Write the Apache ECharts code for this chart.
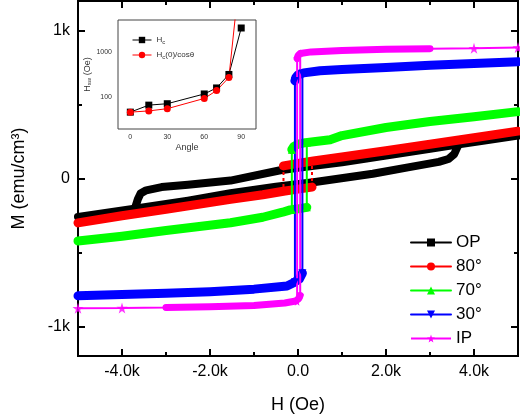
<!DOCTYPE html>
<html><head><meta charset="utf-8">
<script src="https://cdn.jsdelivr.net/npm/echarts/dist/echarts.min.js"></script>
<style>html,body{margin:0;padding:0;background:#fff}#c{width:520px;height:419px}</style>
</head><body><div id="c"></div>
<script>
// ---- tick values / labels ----
const xTickValues = [-4000, -2000, 0, 2000, 4000];
const xTickLabels = ['-4.0k', '-2.0k', '0.0', '2.0k', '4.0k'];
const xMinorValues = [-3000, -1000, 1000, 3000];
const yTickValues = [-1000, 0, 1000];
const yTickLabels = ['-1k', '0', '1k'];
const yMinorValues = [-500, 500];
const insetXTicks = [0, 30, 60, 90];
const insetYTicks = [100, 1000];

// ---- loop data [H (Oe), M (emu/cm3)] ----
const opUpper = [[5000,290],[4200,255],[3660,232],[3000,200],[2000,155],[1000,110],[0,72],[-400,56],[-1534,-14],[-2500,-42],[-3100,-58],[-3450,-80],[-3580,-102],[-3640,-140],[-3690,-188],[-3720,-205]];
const opLower = [[-5000,-260],[-3720,-205],[-2500,-150],[-1534,-100],[-500,-55],[350,-25],[1700,32],[2500,75],[3200,112],[3420,132],[3550,165],[3620,210],[3660,232]];

const r80Upper = [[5000,320],[4000,276],[3000,232],[2000,188],[1000,145],[350,118],[0,102],[-330,85]];
const r80Lower = [[-5000,-300],[-4000,-252],[-3000,-208],[-1534,-141],[-800,-110],[-330,-86],[0,-72],[318,-58]];
const r80JumpDown = [[-330,85],[-330,-86]];
const r80JumpUp = [[318,-58],[318,116]];

const g70Upper = [[5000,452],[4000,418],[3000,385],[2000,345],[1000,290],[730,262],[400,250],[170,242],[0,232],[-100,215],[-140,195]];
const g70Lower = [[-5000,-422],[-4000,-390],[-3000,-352],[-1534,-299],[-800,-262],[-350,-228],[-175,-212],[0,-205],[200,-195]];
const g70JumpDown = [[-140,195],[-140,-211]];
const g70JumpUp = [[200,-195],[200,243]];

const b30Upper = [[5000,790],[4000,778],[3000,765],[2000,750],[1000,737],[500,728],[130,714],[0,700],[-50,682],[-70,660]];
const b30Lower = [[-5000,-793],[-4000,-785],[-3000,-776],[-2000,-765],[-1000,-748],[-250,-727],[-100,-705],[30,-680],[100,-640]];
const b30JumpDown = [[-70,660],[-70,-702]];
const b30JumpUp = [[100,-640],[100,710]];

const ipUpper = [[5000,885],[4000,880],[3000,878],[2000,873],[1000,866],[300,856],[50,845],[0,830],[-20,812]];
const ipLower = [[-5000,-878],[-4000,-876],[-3000,-872],[-2000,-867],[-1000,-858],[-300,-842],[-50,-828],[20,-810],[50,-790]];
const ipJumpDown = [[-20,812],[-20,-834]];
const ipJumpUp = [[50,-790],[50,846]];

// ---- inset data ----
const angles = [0, 15, 30, 60, 70, 80, 90];
const hcValues = [47, 67, 72, 118, 160, 317, 3335];
const hcCosValues = [47, 50, 56, 94, 140, 272, 100000];

const FONT = 'Liberation Sans, Arial, sans-serif';
const STAR = 'path://M50,0 L61,35 L98,35 L68,57 L79,91 L50,70 L21,91 L32,57 L2,35 L39,35 Z';
const DTRI = 'path://M0,0 L10,0 L5,9 Z';

const series = [];
function band(name, data, color, symbol, width) {
  series.push({type:'line', name, data, symbol, showSymbol:false, symbolSize:8,
    lineStyle:{width: width || 9, color, cap:'round', join:'round'}, itemStyle:{color},
    xAxisIndex:0, yAxisIndex:0, animation:false, silent:true});
}
function jump(name, data, color, symbol, showSym, dashed) {
  series.push({type:'line', name, data, symbol, showSymbol:showSym, symbolSize:8,
    lineStyle:{width:2, color, type: dashed ? [3,3] : 'solid'}, itemStyle:{color},
    xAxisIndex:0, yAxisIndex:0, animation:false, silent:true});
}
band('OP', opUpper, '#000000', 'rect', 8);
band('OP', opLower, '#000000', 'rect', 8);
band('80°', r80Upper, '#ff0000', 'circle');
band('80°', r80Lower, '#ff0000', 'circle');
jump('80°', r80JumpDown, '#ff0000', 'circle', false, true);
jump('80°', r80JumpUp, '#ff0000', 'circle', false, true);
band('70°', g70Upper, '#00ff00', 'triangle');
band('70°', g70Lower, '#00ff00', 'triangle');
jump('70°', g70JumpDown, '#00ff00', 'triangle', true);
jump('70°', g70JumpUp, '#00ff00', 'triangle', true);
band('30°', b30Upper, '#0000ff', DTRI);
band('30°', b30Lower, '#0000ff', DTRI);
jump('30°', b30JumpDown, '#0000ff', DTRI, true);
jump('30°', b30JumpUp, '#0000ff', DTRI, true);
jump('IP', ipUpper, '#ff00ff', STAR, false);
jump('IP', ipLower, '#ff00ff', STAR, false);
band('IP', ipUpper.filter(p => Math.abs(p[0]) <= 3000), '#ff00ff', STAR, 7);
band('IP', ipLower.filter(p => Math.abs(p[0]) <= 3000), '#ff00ff', STAR, 7);
jump('IP', ipJumpDown, '#ff00ff', STAR, true);
jump('IP', ipJumpUp, '#ff00ff', STAR, true);
series.push({type:'scatter', name:'IP', symbol:STAR, symbolSize:11,
  data: ipUpper.concat(ipLower).filter(p => Math.abs(p[0]) > 3000),
  itemStyle:{color:'#ff00ff'}, xAxisIndex:0, yAxisIndex:0, animation:false, silent:true});

// inset series
series.push({type:'line', name:'Hc', data: angles.map((a,i)=>[a, hcValues[i]]), symbol:'rect', symbolSize:7,
  lineStyle:{width:1, color:'#000'}, itemStyle:{color:'#000'}, xAxisIndex:4, yAxisIndex:4, animation:false, silent:true, z:5});
series.push({type:'line', name:'Hc0cos', data: angles.map((a,i)=>[a, hcCosValues[i]]), symbol:'circle', symbolSize:7,
  lineStyle:{width:1, color:'#ff0000'}, itemStyle:{color:'#ff0000'}, xAxisIndex:4, yAxisIndex:4, animation:false, silent:true, z:5});

function tickAxis(base, values, len, labels, formatter) {
  return Object.assign({
    axisLine:{show:false, onZero:false},
    splitLine:{show:false},
    axisTick:{show:true, inside:true, length:len, customValues:values, lineStyle:{color:'#000', width:2}},
    axisLabel: labels ? {show:true, customValues:values, formatter, color:'#000', fontSize:16, fontFamily:FONT, margin:8} : {show:false}
  }, base);
}
const xFmt = v => { const i = xTickValues.indexOf(v); return i >= 0 ? xTickLabels[i] : ''; };
const yFmt = v => { const i = yTickValues.indexOf(v); return i >= 0 ? yTickLabels[i] : ''; };

const mainX = {type:'value', min:-5000, max:5000, gridIndex:0};
const mainY = {type:'value', min:-1200, max:1200, gridIndex:0};

const xAxis = [
  tickAxis(Object.assign({position:'bottom', name:'H (Oe)', nameLocation:'middle', nameGap:40,
    nameTextStyle:{fontSize:18, color:'#000', fontFamily:FONT}}, mainX), xTickValues, 7, true, xFmt),
  tickAxis(Object.assign({position:'bottom'}, mainX), xMinorValues, 4, false),
  tickAxis(Object.assign({position:'top'}, mainX), xTickValues, 7, false),
  tickAxis(Object.assign({position:'top'}, mainX), xMinorValues, 4, false),
  {type:'value', gridIndex:1, min:-10, max:102, position:'bottom', name:'Angle', nameLocation:'middle', nameGap:14,
    nameTextStyle:{fontSize:9, color:'#333', fontFamily:FONT},
    axisLine:{show:false, onZero:false}, splitLine:{show:false},
    axisTick:{inside:true, length:3, customValues:insetXTicks, lineStyle:{color:'#333', width:1}},
    axisLabel:{customValues:insetXTicks, fontSize:7, color:'#333', margin:5, fontFamily:FONT}},
  {type:'value', gridIndex:1, min:-10, max:102, position:'top',
    axisLine:{show:false, onZero:false}, splitLine:{show:false},
    axisTick:{inside:true, length:3, customValues:insetXTicks, lineStyle:{color:'#333', width:1}},
    axisLabel:{show:false}}
];
const yAxis = [
  tickAxis(Object.assign({position:'left', name:'M (emu/cm³)', nameLocation:'middle', nameGap:50,
    nameTextStyle:{fontSize:18, color:'#000', fontFamily:FONT}}, mainY), yTickValues, 7, true, yFmt),
  tickAxis(Object.assign({position:'left'}, mainY), yMinorValues, 4, false),
  tickAxis(Object.assign({position:'right'}, mainY), yTickValues, 7, false),
  tickAxis(Object.assign({position:'right'}, mainY), yMinorValues, 4, false),
  {type:'log', logBase:10, gridIndex:1, min:20, max:5000, position:'left',
    name:'{a|H}{s|sw}{a| (Oe)}', nameLocation:'middle', nameGap:24,
    nameTextStyle:{color:'#333', fontFamily:FONT, rich:{a:{fontSize:9, color:'#333', fontFamily:FONT}, s:{fontSize:6, color:'#333', fontFamily:FONT, padding:[4,0,0,0]}}},
    axisLine:{show:false, onZero:false}, splitLine:{show:false},
    axisTick:{inside:true, length:3, customValues:insetYTicks, lineStyle:{color:'#333', width:1}},
    axisLabel:{customValues:insetYTicks, fontSize:7, color:'#333', margin:6, fontFamily:FONT, formatter: v => String(Math.round(v))}},
  {type:'log', logBase:10, gridIndex:1, min:20, max:5000, position:'right',
    axisLine:{show:false, onZero:false}, splitLine:{show:false},
    axisTick:{inside:true, length:3, customValues:insetYTicks, lineStyle:{color:'#333', width:1}},
    axisLabel:{show:false}}
];

const chart = echarts.init(document.getElementById('c'), null, {renderer:'canvas'});
chart.setOption({
  backgroundColor:'#fff',
  animation:false,
  grid:[
    {left:78, top:1, width:440, height:356, show:true, borderColor:'#000', borderWidth:2, backgroundColor:'transparent'},
    {left:118, top:20, width:138, height:109, show:true, borderColor:'#444', borderWidth:1, backgroundColor:'#fff', z:4}
  ],
  xAxis, yAxis, series,
  legend:[
    {data:['OP','80°','70°','30°','IP'], orient:'vertical', left:405, top:229, itemWidth:40, itemHeight:10, itemGap:7,
      selectedMode:false, textStyle:{fontSize:17, color:'#000', fontFamily:FONT}, lineStyle:{width:2}},
    {data:['Hc','Hc0cos'], orient:'vertical', left:127, top:31, itemWidth:19, itemHeight:8, itemGap:6,
      selectedMode:false, lineStyle:{width:1},
      formatter: n => n === 'Hc' ? '{a|H}{s|c}' : '{a|H}{s|c}{a|(0)/cos\u03b8}',
      textStyle:{fontSize:8, color:'#333', fontFamily:FONT,
        rich:{a:{fontSize:8, color:'#333', fontFamily:FONT}, s:{fontSize:6, color:'#333', fontFamily:FONT, padding:[4,0,0,0]}}}}
  ]
});
</script></body></html>
